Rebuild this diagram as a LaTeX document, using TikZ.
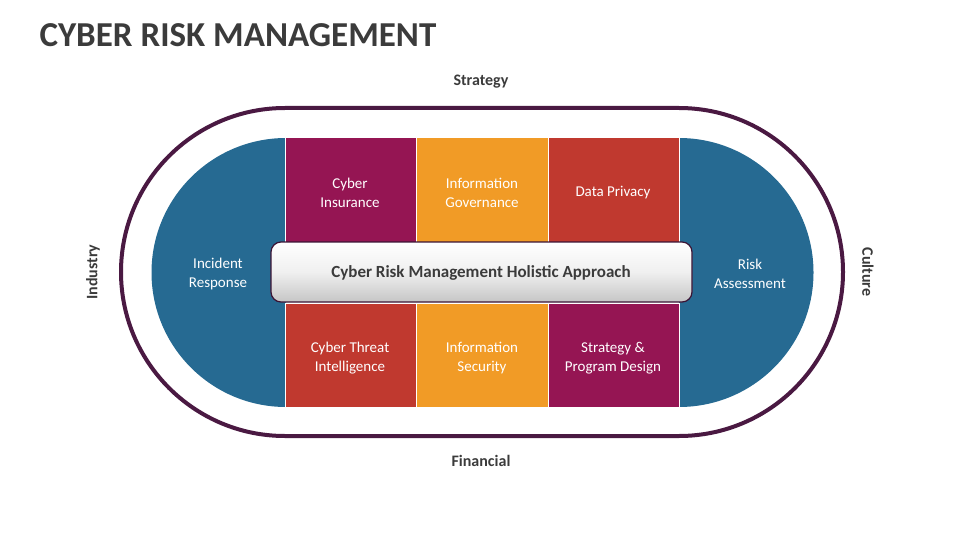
\documentclass[tikz,border=0pt]{standalone}
\usepackage{fontspec}
\setmainfont{Carlito}
\definecolor{ring}{HTML}{4A1942}
\definecolor{cblue}{HTML}{266A92}
\definecolor{cpur}{HTML}{951553}
\definecolor{corg}{HTML}{F19B26}
\definecolor{cred}{HTML}{C0392F}
\definecolor{tgray}{HTML}{3B3B3B}
\tikzset{cell/.style={draw=white,line width=1pt},
 ctext/.style={text=white,font=\fontsize{15}{18.5}\selectfont,align=center},
 lbl/.style={text=tgray,font=\bfseries\fontsize{16}{19}\selectfont}}
\begin{document}
\begin{tikzpicture}[x=1pt,y=-1pt]
\useasboundingbox (0,0) rectangle (960,540);
\node[anchor=west,text=tgray,font=\bfseries\fontsize{35}{40}\selectfont] (title) at (36,35) {CYBER RISK MANAGEMENT};
\draw[ring,line width=4pt] (285,108) -- (679,108) arc[start angle=-90,end angle=90,radius=164] -- (285,436) arc[start angle=90,end angle=270,radius=164] -- cycle;
\fill[cblue] (286,138) arc[start angle=-90,end angle=-270,radius=134.5] -- cycle;
\fill[cblue] (679,138) arc[start angle=-90,end angle=90,radius=134.5] -- cycle;
\node[ctext] (ir) at (218,274) {Incident\\Response};
\node[ctext] (ra) at (750,274) {Risk\\Assessment};
\filldraw[cell,fill=cpur] (285,138) rectangle (416,242);
\filldraw[cell,fill=corg] (416,138) rectangle (548,242);
\filldraw[cell,fill=cred] (548,138) rectangle (679,242);
\filldraw[cell,fill=cred] (285,303) rectangle (416,407);
\filldraw[cell,fill=corg] (416,303) rectangle (548,407);
\filldraw[cell,fill=cpur] (548,303) rectangle (679,407);
\node[ctext] (c1) at (350,193) {Cyber\\Insurance};
\node[ctext] (c2) at (482,193) {Information\\Governance};
\node[ctext] (c3) at (613,193) {Data Privacy};
\node[ctext] (c4) at (350,358) {Cyber Threat\\Intelligence};
\node[ctext] (c5) at (482,358) {Information\\Security};
\node[ctext] (c6) at (613,358) {Strategy \&\\Program Design};
\shade[top color=white,bottom color=gray!45,middle color=gray!12,rounded corners=10pt] (271,242) rectangle (692,302);
\draw[ring!80!black,line width=1.2pt,rounded corners=10pt] (271,242) rectangle (692,302);
\node[lbl,font=\bfseries\fontsize{17}{20}\selectfont] (mid) at (481,273) {Cyber Risk Management Holistic Approach};
\node[lbl] (s) at (481,82) {Strategy};
\node[lbl] (f) at (481,461) {Financial};
\node[lbl,rotate=90] (i) at (93,272) {Industry};
\node[lbl,rotate=-90] (cu) at (868,272) {Culture};
\end{tikzpicture}
\end{document}
